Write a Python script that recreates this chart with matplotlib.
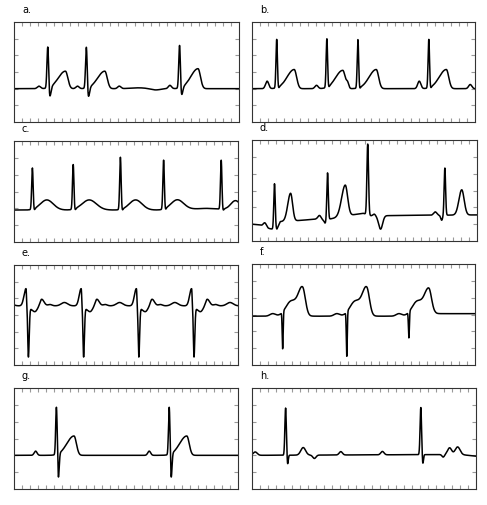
import matplotlib
matplotlib.use('Agg')
import matplotlib.pyplot as plt
import numpy as np

# waves: (centre, amplitude, left width, right width) in grid units
# baselines: breakpoints (x, y)
labels = ['a.', 'b.', 'c.', 'd.', 'e.', 'f.', 'g.', 'h.']

base_a = ([0, 28], [2.0, 2.0])
waves_a = [(3.1, .15, .2, .2), (7.9, .15, .2, .2), (13.1, .15, .2, .2), (19.4, .2, .2, .2),
           (4.2, 2.45, .1, .1), (9.0, 2.45, .1, .1), (20.6, 2.55, .1, .1),
           (4.45, -.6, .08, .15), (9.25, -.6, .08, .15), (20.85, -.5, .08, .15),
           (6.4, 1.05, .9, .3), (11.3, 1.05, .9, .3), (22.9, 1.2, .9, .3),
           (15.5, .05, 1.0, 1.0), (17.6, -.08, .6, .6)]

base_b = ([0, 28], [2.0, 2.0])
waves_b = [(1.9, .45, .2, .2), (8.1, .2, .2, .2), (12.0, .3, .15, .15), (21.0, .45, .2, .2), (27.4, .25, .2, .2),
           (3.1, 2.9, .09, .09), (9.4, 2.9, .09, .09), (13.3, 2.9, .09, .09), (22.2, 2.9, .09, .09),
           (3.3, -.1, .06, .1), (9.6, -.1, .06, .1), (13.5, -.1, .06, .1), (22.4, -.1, .06, .1),
           (5.3, 1.15, .9, .3), (11.4, 1.1, .9, .3), (15.6, 1.15, .9, .3), (24.4, 1.15, .9, .3)]

base_c = ([0, 20, 24, 28], [1.9, 1.9, 2.0, 1.9])
waves_c = [(2.3, 2.45, .09, .09), (7.4, 2.65, .09, .09), (13.3, 3.1, .09, .09), (18.7, 2.9, .09, .09), (25.9, 2.9, .09, .09),
           (2.5, -.12, .06, .1), (7.6, -.12, .06, .1), (13.5, -.12, .06, .1), (18.9, -.12, .06, .1), (26.1, -.12, .06, .1),
           (4.1, .6, .8, .8), (9.4, .6, .9, .9), (15.2, .6, .8, .8), (20.4, .6, .8, .8), (27.7, .55, .6, .6)]

base_d = ([0, 1.0, 2.0, 2.6, 3.1, 3.5, 5.3, 8.0, 9.2, 9.6, 12.5, 13.8, 14.8, 28],
          [1.0, 0.95, 0.75, 0.7, 0.7, 1.15, 1.2, 1.3, 1.2, 1.3, 1.55, 1.65, 1.5, 1.55])
waves_d = [(1.6, .25, .2, .2), (2.8, 2.7, .09, .09), (4.8, 1.65, .35, .25),
           (8.4, .25, .2, .2), (9.1, -.15, .1, .1), (9.4, 2.8, .09, .09), (11.6, 1.85, .45, .3),
           (14.4, 4.2, .1, .1), (15.2, .1, .15, .15), (16.0, -.8, .25, .25),
           (22.8, .2, .2, .2), (23.6, -.3, .12, .12), (24.0, 2.8, .09, .09), (26.1, 1.5, .35, .3)]

base_e = ([0, 28], [3.55, 3.55])
beats_e = [-5.4, 1.5, 8.4, 15.3, 22.2]
waves_e = []
for b in beats_e:
    waves_e += [(b, 1.05, .25, .06), (b + .3, -3.0, .08, .1), (b + 1.1, -.35, .45, .3),
                (b + 1.95, .4, .2, .3), (b + 3.0, .08, .25, .25), (b + 4.8, .2, .4, .4)]

base_f = ([0, 22, 23, 28], [2.9, 2.9, 3.05, 3.05])
beats_f = [3.85, 11.9, 19.7]
depth_f = [-2.2, -2.65, -1.55]
peak_f = [1.55, 1.55, 1.45]
waves_f = []
for q, dq, pk in zip(beats_f, depth_f, peak_f):
    waves_f += [(q - 1.25, .15, .35, .35), (q, dq, .06, .06),
                (q + 1.1, .9, .7, .8), (q + 2.5, pk, .5, .35)]

base_g = ([0, 28], [2.0, 2.0])
waves_g = [(2.7, .25, .18, .18), (16.9, .25, .18, .18),
           (5.3, 2.8, .09, .09), (19.4, 2.8, .09, .09),
           (5.55, -1.45, .07, .1), (19.65, -1.45, .07, .1),
           (7.5, 1.15, .9, .3), (21.6, 1.15, .9, .3)]

base_h = ([0, 26, 28], [2.0, 2.05, 1.95])
waves_h = [(0.4, .2, .25, .25), (4.2, 2.8, .09, .09), (21.1, 2.8, .09, .09),
           (4.45, -.55, .06, .08), (21.35, -.55, .06, .08),
           (6.4, .45, .3, .3), (7.8, -.2, .2, .2), (11.1, .2, .2, .2), (16.3, .2, .2, .2),
           (23.9, -.15, .15, .15), (24.7, .4, .25, .25), (25.7, .45, .3, .3)]

bases = [base_a, base_b, base_c, base_d, base_e, base_f, base_g, base_h]
waves = [waves_a, waves_b, waves_c, waves_d, waves_e, waves_f, waves_g, waves_h]

# axes boxes in pixels: x0, y_top, width, height
boxes = [(14, 22, 225, 100), (252, 22, 223, 100), (14, 141, 224, 101), (252, 140, 225, 101),
         (14, 265, 224, 100), (252, 264, 223, 101), (14, 388, 224, 101), (252, 388, 224, 101)]

W, H = 487, 505
fig = plt.figure(figsize=(W / 100, H / 100), dpi=100)
x = np.linspace(0, 28, 4000)

for lab, base, wv, (px, py, pw, ph) in zip(labels, bases, waves, boxes):
    ax = fig.add_axes([px / W, 1 - (py + ph) / H, pw / W, ph / H])
    y = np.interp(x, base[0], base[1])
    for c, a, wl, wr in wv:
        s = np.where(x < c, wl, wr)
        y = y + a * np.exp(-0.5 * ((x - c) / s) ** 2)
    ax.plot(x, y, color='black', lw=1.1)
    ax.set_xlim(0, 28)
    ax.set_ylim(0, 6)
    ax.set_xticks(np.arange(1, 28))
    ax.set_yticks(np.arange(1, 6))
    ax.tick_params(direction='in', length=3, width=0.8, color='#999999',
                   top=True, right=True, labelbottom=False, labelleft=False)
    for sp in ax.spines.values():
        sp.set_color('#333333')
        sp.set_linewidth(0.8)
    fig.text((px + 8) / W, 1 - (py - 12) / H, lab, fontsize=7, va='center', ha='left')

fig.savefig('out.png', dpi=100)
